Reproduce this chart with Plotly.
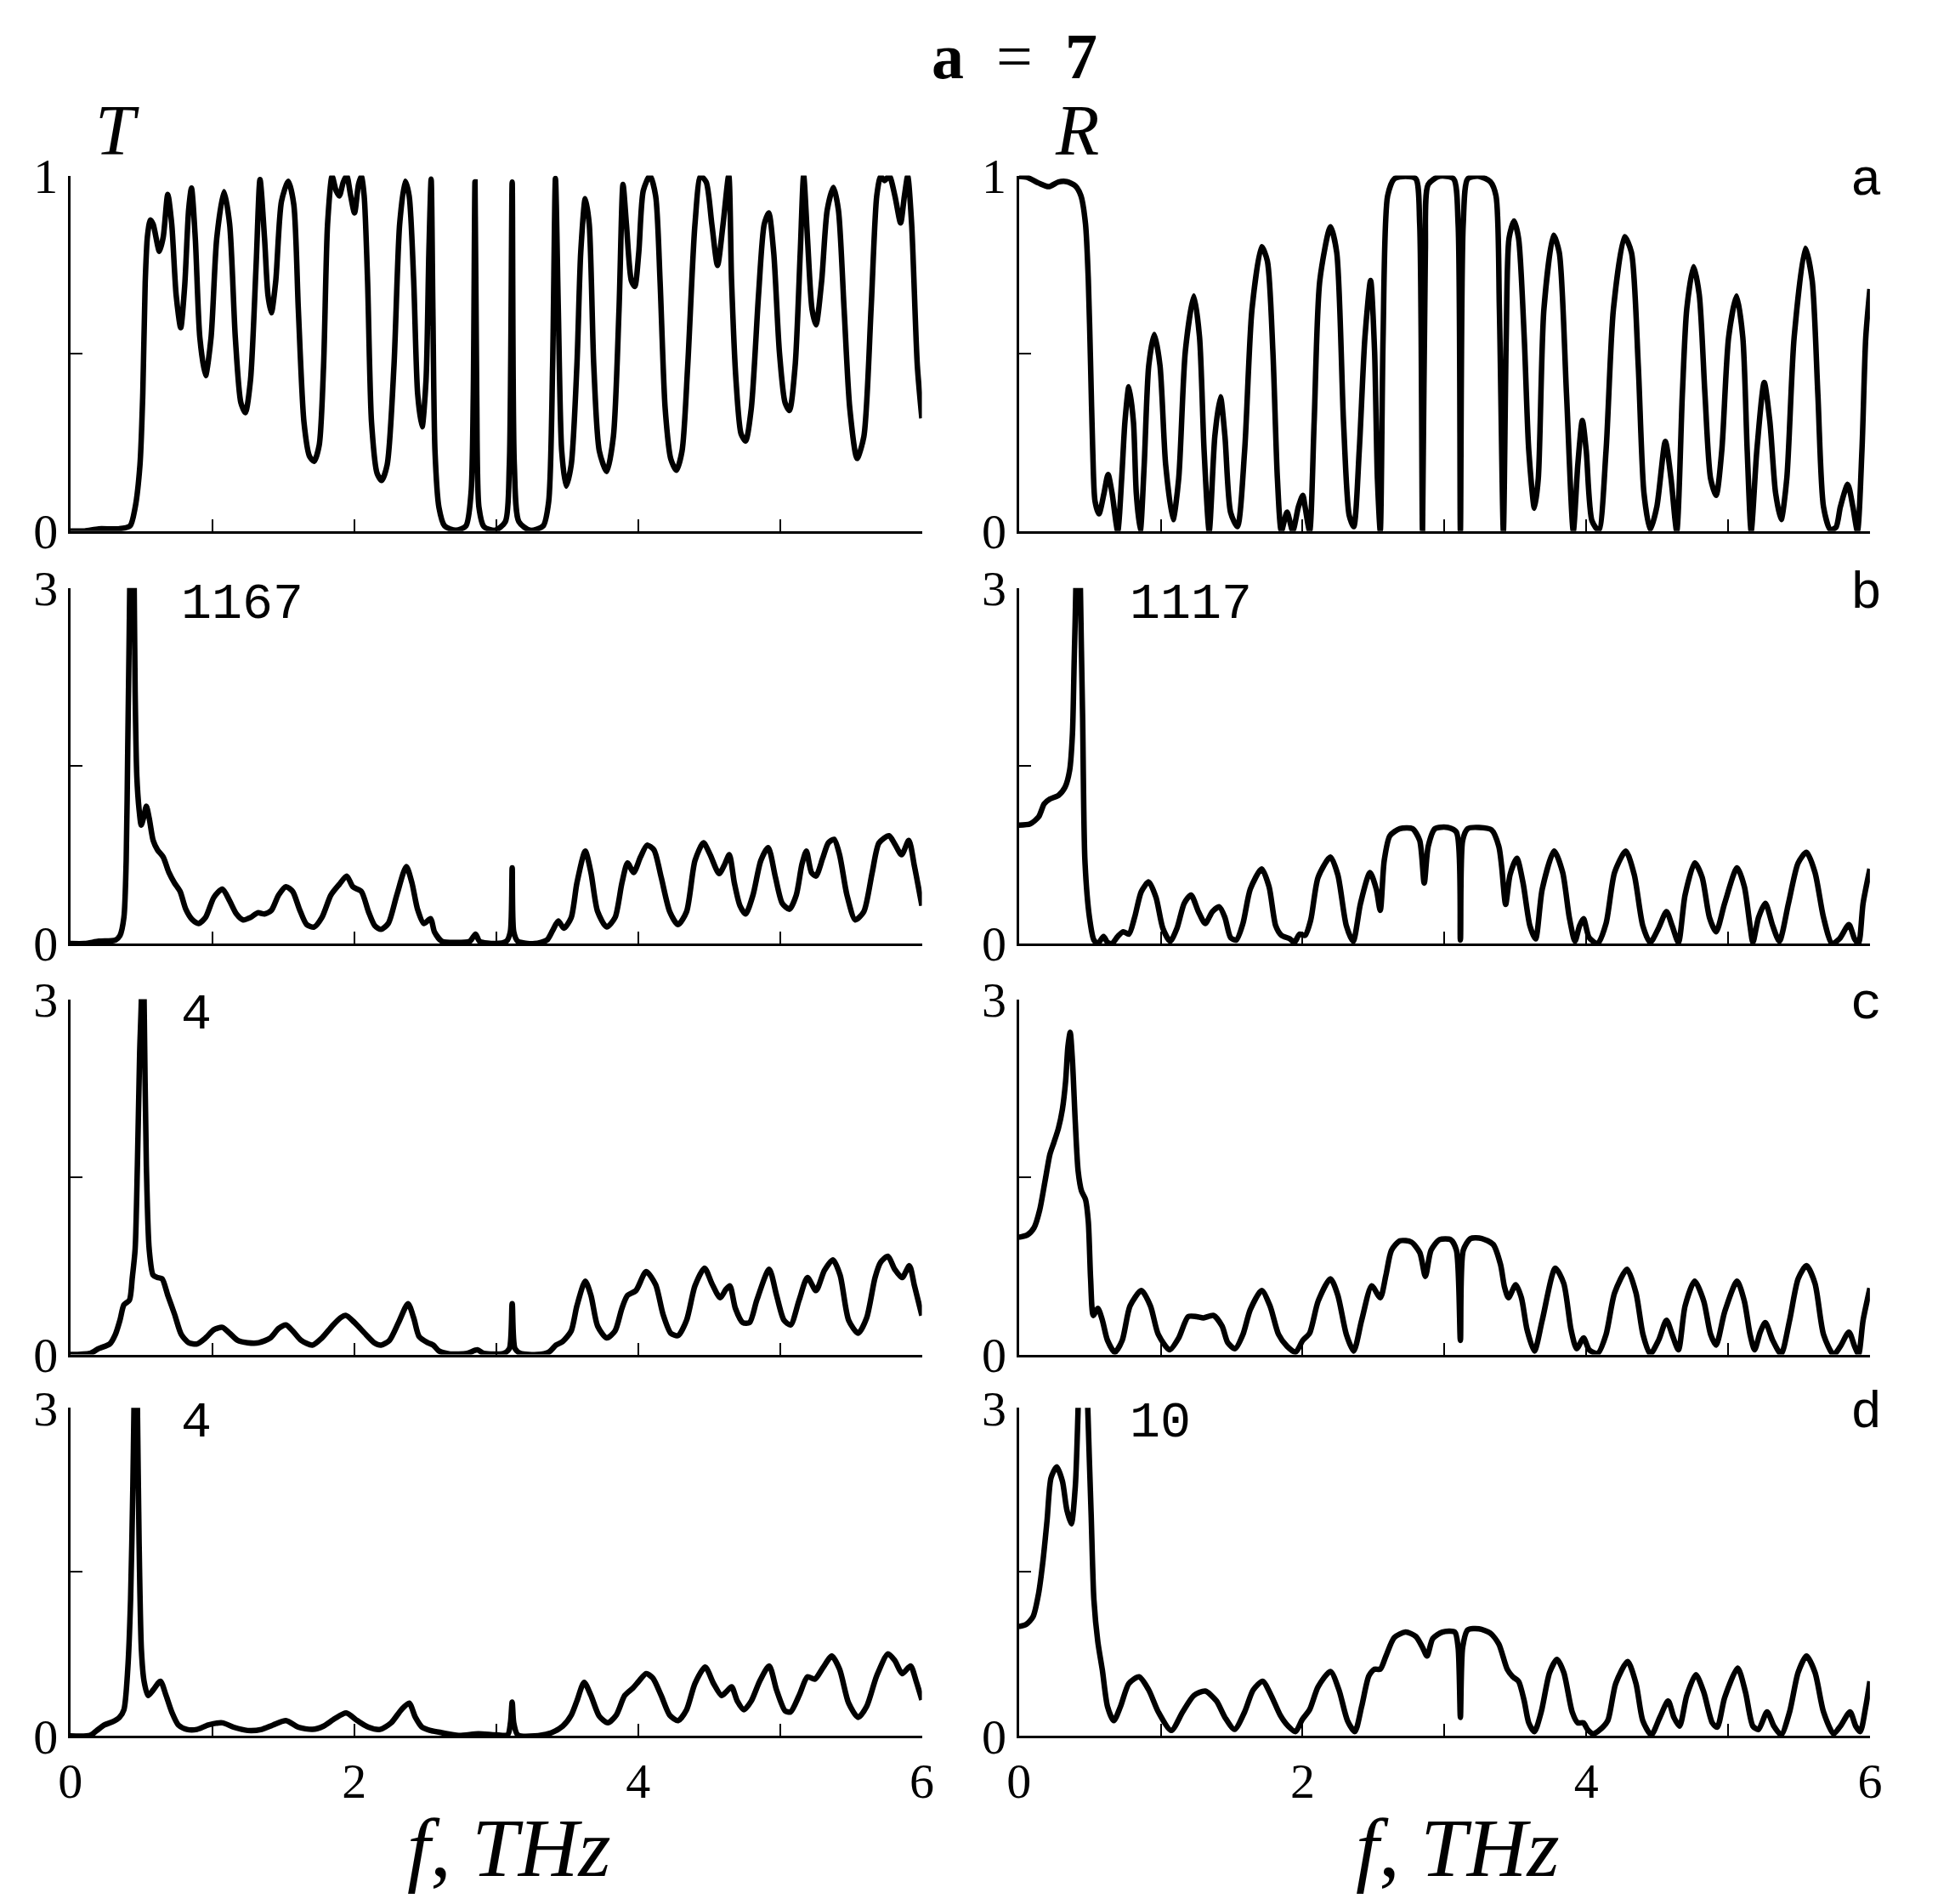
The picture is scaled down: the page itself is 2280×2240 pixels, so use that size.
import plotly.graph_objects as go
from plotly.subplots import make_subplots

# (f in THz, value) pairs, one list per panel.
# Peaks that leave the frame are given a value above the axis range.
T_A = [(0, 0), (0.1, 0), (0.2, 0.006), (0.34, 0.006), (0.42, 0.014), (0.456, 0.066), (0.49, 0.186),
       (0.51, 0.385), (0.527, 0.70), (0.543, 0.83), (0.563, 0.875), (0.583, 0.863), (0.627, 0.787),
       (0.654, 0.827), (0.686, 0.947), (0.714, 0.863), (0.745, 0.664), (0.777, 0.572), (0.805, 0.688),
       (0.833, 0.903), (0.853, 0.965), (0.88, 0.823), (0.912, 0.544), (0.952, 0.437), (0.991, 0.544),
       (1.031, 0.823), (1.082, 0.955), (1.122, 0.863), (1.162, 0.544), (1.201, 0.361), (1.233, 0.333),
       (1.269, 0.425), (1.308, 0.743), (1.336, 0.989), (1.368, 0.823), (1.392, 0.664), (1.416, 0.614),
       (1.447, 0.704), (1.487, 0.927), (1.535, 0.984), (1.574, 0.919), (1.606, 0.624), (1.646, 0.305),
       (1.685, 0.21), (1.717, 0.196), (1.753, 0.241), (1.784, 0.465), (1.812, 0.863), (1.844, 0.998),
       (1.872, 0.958), (1.895, 0.943), (1.923, 0.982), (1.947, 1.0), (1.975, 0.943), (2.002, 0.895),
       (2.03, 0.975), (2.05, 0.998), (2.07, 0.943), (2.094, 0.704), (2.122, 0.305), (2.161, 0.162),
       (2.193, 0.142), (2.232, 0.186), (2.28, 0.465), (2.32, 0.863), (2.359, 0.984), (2.387, 0.943),
       (2.419, 0.704), (2.447, 0.385), (2.478, 0.293), (2.506, 0.425), (2.526, 0.783), (2.542, 0.99),
       (2.554, 0.624), (2.569, 0.225), (2.597, 0.066), (2.637, 0.014), (2.716, 0.002), (2.787, 0.014),
       (2.823, 0.106), (2.839, 0.385), (2.851, 0.982), (2.863, 0.385), (2.879, 0.066), (2.914, 0.012),
       (2.994, 0.002), (3.065, 0.026), (3.093, 0.186), (3.113, 0.982), (3.128, 0.186), (3.16, 0.026),
       (3.239, 0.002), (3.331, 0.014), (3.37, 0.082), (3.398, 0.465), (3.418, 0.992), (3.438, 0.624),
       (3.462, 0.225), (3.493, 0.126), (3.529, 0.186), (3.569, 0.465), (3.596, 0.783), (3.628, 0.935),
       (3.656, 0.863), (3.688, 0.465), (3.727, 0.225), (3.779, 0.167), (3.826, 0.265), (3.866, 0.624),
       (3.894, 0.975), (3.918, 0.863), (3.953, 0.704), (3.977, 0.688), (4.005, 0.783), (4.037, 0.958),
       (4.084, 1.0), (4.124, 0.943), (4.155, 0.704), (4.191, 0.345), (4.231, 0.202), (4.27, 0.171),
       (4.31, 0.225), (4.35, 0.465), (4.401, 0.863), (4.441, 0.998), (4.48, 0.982), (4.52, 0.863),
       (4.56, 0.747), (4.599, 0.863), (4.639, 1.0), (4.659, 0.704), (4.69, 0.425), (4.726, 0.273),
       (4.758, 0.253), (4.798, 0.345), (4.849, 0.664), (4.889, 0.863), (4.921, 0.895), (4.956, 0.783),
       (4.996, 0.504), (5.036, 0.361), (5.067, 0.339), (5.107, 0.465), (5.143, 0.783), (5.167, 1.0),
       (5.194, 0.823), (5.226, 0.624), (5.254, 0.58), (5.294, 0.704), (5.333, 0.903), (5.377, 0.967),
       (5.412, 0.903), (5.452, 0.624), (5.492, 0.345), (5.543, 0.204), (5.591, 0.265), (5.642, 0.624),
       (5.682, 0.943), (5.71, 0.998), (5.738, 0.986), (5.77, 1.0), (5.81, 0.943), (5.85, 0.867),
       (5.877, 0.943), (5.9, 0.998), (5.928, 0.863), (5.968, 0.465), (6.0, 0.317)]

R_A = [(0, 0.998), (0.06, 0.995), (0.14, 0.979), (0.21, 0.969), (0.279, 0.982), (0.338, 0.983),
       (0.398, 0.971), (0.438, 0.943), (0.47, 0.864), (0.49, 0.705), (0.506, 0.466), (0.521, 0.227),
       (0.537, 0.084), (0.565, 0.048), (0.601, 0.107), (0.629, 0.159), (0.657, 0.107), (0.697, 0.0),
       (0.725, 0.147), (0.748, 0.307), (0.776, 0.406), (0.808, 0.307), (0.828, 0.107), (0.856, 0.0),
       (0.884, 0.187), (0.916, 0.466), (0.955, 0.553), (0.995, 0.466), (1.035, 0.187), (1.087, 0.032),
       (1.127, 0.147), (1.174, 0.506), (1.234, 0.661), (1.274, 0.545), (1.306, 0.227), (1.342, 0.0),
       (1.382, 0.267), (1.421, 0.378), (1.453, 0.267), (1.493, 0.052), (1.541, 0.012), (1.592, 0.227),
       (1.644, 0.625), (1.712, 0.8), (1.752, 0.76), (1.791, 0.506), (1.823, 0.147), (1.851, 0.0),
       (1.891, 0.053), (1.931, 0.0), (1.971, 0.068), (2.002, 0.1), (2.018, 0.068), (2.05, 0.0),
       (2.082, 0.307), (2.122, 0.705), (2.197, 0.856), (2.241, 0.784), (2.289, 0.307), (2.329, 0.044),
       (2.361, 0.012), (2.4, 0.227), (2.44, 0.545), (2.48, 0.705), (2.508, 0.506), (2.528, 0.147),
       (2.548, 0.0), (2.568, 0.545), (2.6, 0.943), (2.647, 0.991), (2.727, 0.998), (2.799, 0.991),
       (2.826, 0.864), (2.846, 0.0), (2.866, 0.784), (2.886, 0.975), (2.966, 0.998), (3.065, 0.991),
       (3.097, 0.864), (3.113, 0.0), (3.133, 0.864), (3.165, 0.991), (3.244, 0.998), (3.324, 0.983),
       (3.364, 0.943), (3.388, 0.625), (3.416, 0.0), (3.436, 0.545), (3.456, 0.824), (3.491, 0.872),
       (3.523, 0.824), (3.563, 0.545), (3.595, 0.227), (3.635, 0.064), (3.662, 0.147), (3.702, 0.625),
       (3.77, 0.832), (3.81, 0.784), (3.861, 0.386), (3.909, 0.0), (3.941, 0.187), (3.973, 0.311),
       (4.0, 0.227), (4.041, 0.028), (4.088, 0.002), (4.14, 0.227), (4.192, 0.625), (4.271, 0.828),
       (4.319, 0.784), (4.367, 0.466), (4.407, 0.107), (4.451, 0.004), (4.498, 0.068), (4.558, 0.252),
       (4.598, 0.147), (4.638, 0.0), (4.678, 0.386), (4.709, 0.625), (4.757, 0.744), (4.797, 0.665),
       (4.837, 0.386), (4.877, 0.147), (4.916, 0.1), (4.956, 0.227), (5.004, 0.545), (5.06, 0.661),
       (5.104, 0.545), (5.135, 0.227), (5.163, 0.0), (5.203, 0.227), (5.255, 0.418), (5.295, 0.307),
       (5.335, 0.107), (5.374, 0.032), (5.414, 0.147), (5.466, 0.545), (5.545, 0.796), (5.593, 0.705),
       (5.633, 0.386), (5.673, 0.068), (5.721, 0.004), (5.761, 0.01), (5.792, 0.068), (5.844, 0.131),
       (5.88, 0.068), (5.912, 0.0), (5.944, 0.227), (5.971, 0.545), (6.0, 0.681)]

T_B = [(0, 0), (0.1, 0), (0.2, 0.02), (0.317, 0.03), (0.349, 0.067), (0.377, 0.222), (0.393, 0.7),
       (0.404, 1.65), (0.42, 3.2), (0.432, 5.0), (0.448, 3.2), (0.456, 2.13), (0.468, 1.41),
       (0.484, 1.13), (0.499, 1.0), (0.515, 1.06), (0.535, 1.16), (0.555, 1.06), (0.583, 0.87),
       (0.614, 0.79), (0.654, 0.73), (0.694, 0.60), (0.734, 0.51), (0.773, 0.44), (0.813, 0.29),
       (0.86, 0.20), (0.904, 0.17), (0.952, 0.22), (1.011, 0.39), (1.071, 0.46), (1.122, 0.36),
       (1.17, 0.25), (1.217, 0.20), (1.269, 0.22), (1.32, 0.26), (1.368, 0.25), (1.416, 0.28),
       (1.467, 0.41), (1.519, 0.48), (1.566, 0.44), (1.614, 0.29), (1.665, 0.16), (1.717, 0.14),
       (1.772, 0.22), (1.836, 0.41), (1.895, 0.50), (1.947, 0.57), (1.99, 0.48), (2.05, 0.44),
       (2.1, 0.27), (2.145, 0.15), (2.189, 0.12), (2.24, 0.17), (2.3, 0.41), (2.367, 0.65),
       (2.407, 0.51), (2.446, 0.29), (2.49, 0.17), (2.538, 0.21), (2.565, 0.10), (2.617, 0.02),
       (2.716, 0.01), (2.815, 0.02), (2.855, 0.08), (2.883, 0.02), (2.994, 0.0), (3.073, 0.02),
       (3.1, 0.10), (3.113, 0.64), (3.124, 0.10), (3.152, 0.02), (3.271, 0.0), (3.358, 0.03),
       (3.398, 0.11), (3.438, 0.19), (3.477, 0.13), (3.529, 0.22), (3.569, 0.51), (3.628, 0.78),
       (3.668, 0.60), (3.715, 0.27), (3.779, 0.14), (3.838, 0.22), (3.886, 0.51), (3.926, 0.68),
       (3.969, 0.60), (4.017, 0.73), (4.064, 0.83), (4.112, 0.79), (4.163, 0.56), (4.223, 0.27),
       (4.282, 0.16), (4.342, 0.27), (4.401, 0.70), (4.461, 0.85), (4.508, 0.75), (4.571, 0.59),
       (4.611, 0.67), (4.643, 0.75), (4.679, 0.51), (4.718, 0.32), (4.758, 0.25), (4.81, 0.41),
       (4.865, 0.70), (4.917, 0.81), (4.968, 0.56), (5.016, 0.34), (5.067, 0.29), (5.115, 0.41),
       (5.155, 0.67), (5.186, 0.78), (5.222, 0.60), (5.254, 0.57), (5.301, 0.72), (5.341, 0.85),
       (5.381, 0.88), (5.42, 0.75), (5.472, 0.41), (5.531, 0.20), (5.591, 0.27), (5.65, 0.60),
       (5.698, 0.85), (5.769, 0.91), (5.809, 0.84), (5.857, 0.75), (5.908, 0.87), (5.948, 0.65),
       (6.0, 0.32)]

R_B = [(0, 1.0), (0.08, 1.01), (0.14, 1.07), (0.179, 1.18), (0.219, 1.22), (0.279, 1.25),
       (0.326, 1.32), (0.358, 1.46), (0.378, 1.77), (0.39, 2.37), (0.402, 3.0), (0.418, 5.0),
       (0.434, 3.0), (0.45, 1.89), (0.466, 0.70), (0.498, 0.22), (0.529, 0.03), (0.557, 0.0),
       (0.597, 0.06), (0.625, 0.01), (0.657, 0.0), (0.697, 0.06), (0.736, 0.10), (0.776, 0.08),
       (0.816, 0.22), (0.864, 0.44), (0.916, 0.52), (0.967, 0.39), (1.015, 0.13), (1.067, 0.02),
       (1.115, 0.13), (1.166, 0.34), (1.214, 0.41), (1.266, 0.27), (1.314, 0.17), (1.365, 0.27),
       (1.413, 0.31), (1.453, 0.22), (1.493, 0.05), (1.533, 0.03), (1.58, 0.17), (1.632, 0.46),
       (1.712, 0.63), (1.764, 0.48), (1.811, 0.15), (1.851, 0.07), (1.911, 0.04), (1.943, 0.01),
       (1.979, 0.08), (2.018, 0.07), (2.058, 0.20), (2.11, 0.56), (2.197, 0.73), (2.249, 0.58),
       (2.309, 0.15), (2.357, 0.02), (2.409, 0.34), (2.476, 0.60), (2.52, 0.46), (2.548, 0.28),
       (2.576, 0.70), (2.616, 0.91), (2.687, 0.97), (2.775, 0.97), (2.826, 0.87), (2.858, 0.51),
       (2.886, 0.82), (2.934, 0.97), (3.025, 0.98), (3.085, 0.94), (3.113, 0.03), (3.129, 0.87),
       (3.165, 0.97), (3.244, 0.98), (3.332, 0.96), (3.384, 0.82), (3.404, 0.65), (3.432, 0.33),
       (3.463, 0.58), (3.511, 0.72), (3.555, 0.51), (3.603, 0.15), (3.643, 0.04), (3.69, 0.46),
       (3.774, 0.78), (3.834, 0.60), (3.881, 0.22), (3.921, 0.02), (3.953, 0.15), (3.981, 0.21),
       (4.021, 0.05), (4.081, 0.0), (4.14, 0.17), (4.2, 0.60), (4.279, 0.78), (4.339, 0.58),
       (4.399, 0.15), (4.451, 0.01), (4.51, 0.13), (4.566, 0.27), (4.606, 0.15), (4.65, 0.01),
       (4.697, 0.41), (4.765, 0.68), (4.817, 0.56), (4.869, 0.22), (4.916, 0.10), (4.976, 0.34),
       (5.064, 0.64), (5.115, 0.48), (5.155, 0.15), (5.175, 0.01), (5.215, 0.22), (5.263, 0.34),
       (5.315, 0.15), (5.362, 0.02), (5.426, 0.34), (5.494, 0.68), (5.553, 0.77), (5.613, 0.60),
       (5.673, 0.22), (5.733, 0.0), (5.785, 0.04), (5.852, 0.16), (5.892, 0.04), (5.92, 0.0),
       (5.952, 0.34), (6.0, 0.63)]

T_C = [(0, 0), (0.139, 0.01), (0.198, 0.05), (0.278, 0.09), (0.317, 0.17), (0.349, 0.29),
       (0.377, 0.42), (0.416, 0.46), (0.436, 0.65), (0.456, 0.89), (0.472, 1.6), (0.488, 2.55),
       (0.5, 3.0), (0.508, 4.0), (0.519, 3.0), (0.535, 1.6), (0.555, 0.89), (0.583, 0.67),
       (0.614, 0.65), (0.646, 0.64), (0.686, 0.5), (0.734, 0.34), (0.781, 0.17), (0.833, 0.1),
       (0.892, 0.09), (0.952, 0.14), (1.011, 0.21), (1.071, 0.23), (1.122, 0.18), (1.178, 0.12),
       (1.249, 0.1), (1.328, 0.1), (1.408, 0.14), (1.467, 0.22), (1.519, 0.25), (1.566, 0.2),
       (1.626, 0.12), (1.705, 0.08), (1.772, 0.14), (1.844, 0.24), (1.903, 0.31), (1.943, 0.33),
       (2.002, 0.27), (2.082, 0.17), (2.141, 0.1), (2.189, 0.08), (2.248, 0.12), (2.312, 0.27),
       (2.379, 0.43), (2.419, 0.31), (2.458, 0.15), (2.518, 0.1), (2.557, 0.08), (2.597, 0.03),
       (2.676, 0.005), (2.795, 0.01), (2.867, 0.04), (2.914, 0.01), (3.053, 0.01), (3.093, 0.05),
       (3.113, 0.43), (3.133, 0.05), (3.172, 0.01), (3.291, 0.0), (3.37, 0.02), (3.422, 0.08),
       (3.469, 0.11), (3.529, 0.2), (3.569, 0.41), (3.628, 0.62), (3.668, 0.5), (3.715, 0.24),
       (3.779, 0.14), (3.838, 0.2), (3.886, 0.39), (3.926, 0.5), (3.985, 0.54), (4.057, 0.7),
       (4.124, 0.59), (4.176, 0.34), (4.231, 0.18), (4.282, 0.16), (4.342, 0.29), (4.401, 0.58),
       (4.469, 0.73), (4.52, 0.6), (4.579, 0.48), (4.619, 0.55), (4.647, 0.58), (4.686, 0.39),
       (4.738, 0.27), (4.786, 0.27), (4.837, 0.46), (4.924, 0.72), (4.976, 0.5), (5.028, 0.29),
       (5.075, 0.25), (5.135, 0.46), (5.194, 0.65), (5.254, 0.54), (5.313, 0.71), (5.373, 0.8),
       (5.424, 0.67), (5.484, 0.29), (5.551, 0.18), (5.611, 0.31), (5.67, 0.65), (5.71, 0.78),
       (5.761, 0.83), (5.809, 0.72), (5.861, 0.65), (5.912, 0.75), (5.948, 0.58), (6.0, 0.33)]

R_C = [(0, 0.99), (0.06, 1.01), (0.107, 1.07), (0.147, 1.22), (0.187, 1.48), (0.219, 1.69),
       (0.247, 1.79), (0.279, 1.91), (0.307, 2.07), (0.33, 2.31), (0.346, 2.6), (0.362, 2.72),
       (0.378, 2.48), (0.398, 1.96), (0.418, 1.55), (0.442, 1.38), (0.47, 1.31), (0.49, 1.12),
       (0.506, 0.64), (0.525, 0.33), (0.557, 0.39), (0.589, 0.29), (0.625, 0.12), (0.677, 0.02),
       (0.729, 0.12), (0.784, 0.41), (0.864, 0.54), (0.928, 0.41), (0.983, 0.17), (1.063, 0.04),
       (1.127, 0.14), (1.194, 0.32), (1.254, 0.32), (1.302, 0.31), (1.373, 0.33), (1.433, 0.24),
       (1.473, 0.1), (1.525, 0.05), (1.58, 0.17), (1.632, 0.38), (1.712, 0.54), (1.771, 0.41),
       (1.831, 0.17), (1.891, 0.07), (1.951, 0.02), (2.002, 0.12), (2.05, 0.18), (2.11, 0.45),
       (2.197, 0.64), (2.249, 0.5), (2.309, 0.17), (2.361, 0.03), (2.417, 0.29), (2.488, 0.58),
       (2.548, 0.48), (2.588, 0.67), (2.627, 0.88), (2.687, 0.96), (2.767, 0.95), (2.827, 0.86),
       (2.866, 0.66), (2.906, 0.88), (2.966, 0.97), (3.045, 0.97), (3.085, 0.88), (3.113, 0.12),
       (3.133, 0.88), (3.185, 0.98), (3.264, 0.98), (3.344, 0.93), (3.396, 0.76), (3.424, 0.57),
       (3.452, 0.48), (3.503, 0.59), (3.543, 0.48), (3.583, 0.21), (3.635, 0.03), (3.69, 0.29),
       (3.782, 0.73), (3.842, 0.6), (3.893, 0.21), (3.933, 0.05), (3.981, 0.14), (4.021, 0.04),
       (4.081, 0.01), (4.14, 0.17), (4.2, 0.52), (4.288, 0.72), (4.351, 0.52), (4.4, 0.17),
       (4.451, 0.005), (4.51, 0.12), (4.566, 0.29), (4.606, 0.17), (4.65, 0.04), (4.697, 0.41),
       (4.765, 0.62), (4.829, 0.45), (4.877, 0.17), (4.916, 0.08), (4.976, 0.36), (5.064, 0.62),
       (5.115, 0.45), (5.155, 0.17), (5.187, 0.04), (5.227, 0.19), (5.263, 0.27), (5.315, 0.12),
       (5.374, 0.005), (5.434, 0.29), (5.494, 0.64), (5.553, 0.75), (5.613, 0.6), (5.673, 0.17),
       (5.744, 0.0), (5.792, 0.07), (5.852, 0.19), (5.892, 0.07), (5.92, 0.005), (5.952, 0.29),
       (6.0, 0.56)]

T_D = [(0, 0), (0.139, 0.005), (0.186, 0.05), (0.238, 0.10), (0.297, 0.13), (0.345, 0.17),
       (0.377, 0.24), (0.404, 0.61), (0.424, 1.25), (0.44, 2.28), (0.448, 3.0), (0.46, 4.0),
       (0.472, 3.0), (0.484, 1.76), (0.5, 0.79), (0.519, 0.5), (0.547, 0.37), (0.583, 0.42),
       (0.634, 0.5), (0.674, 0.37), (0.714, 0.22), (0.761, 0.1), (0.821, 0.06), (0.892, 0.06),
       (0.971, 0.1), (1.071, 0.12), (1.15, 0.08), (1.249, 0.05), (1.348, 0.06), (1.427, 0.1),
       (1.519, 0.14), (1.606, 0.08), (1.705, 0.06), (1.784, 0.09), (1.864, 0.16), (1.943, 0.21),
       (2.022, 0.14), (2.101, 0.08), (2.181, 0.06), (2.26, 0.12), (2.332, 0.24), (2.387, 0.3),
       (2.431, 0.17), (2.478, 0.08), (2.538, 0.05), (2.617, 0.03), (2.736, 0.005), (2.875, 0.02),
       (2.994, 0.01), (3.081, 0.01), (3.101, 0.12), (3.113, 0.31), (3.124, 0.12), (3.152, 0.01),
       (3.271, 0.0), (3.39, 0.03), (3.469, 0.09), (3.529, 0.19), (3.569, 0.32), (3.62, 0.49),
       (3.668, 0.37), (3.727, 0.18), (3.787, 0.12), (3.846, 0.19), (3.906, 0.37), (3.965, 0.44),
       (4.005, 0.5), (4.057, 0.57), (4.104, 0.53), (4.163, 0.37), (4.223, 0.19), (4.282, 0.14),
       (4.342, 0.24), (4.401, 0.48), (4.473, 0.63), (4.532, 0.48), (4.588, 0.37), (4.619, 0.4),
       (4.659, 0.45), (4.699, 0.32), (4.746, 0.24), (4.798, 0.32), (4.857, 0.5), (4.924, 0.64),
       (4.976, 0.42), (5.036, 0.23), (5.075, 0.22), (5.135, 0.37), (5.194, 0.54), (5.246, 0.52),
       (5.301, 0.62), (5.365, 0.73), (5.42, 0.61), (5.484, 0.3), (5.551, 0.17), (5.611, 0.27),
       (5.682, 0.55), (5.761, 0.75), (5.809, 0.69), (5.861, 0.57), (5.92, 0.64), (5.96, 0.5),
       (6.0, 0.33)]

R_D = [(0, 1.0), (0.052, 1.02), (0.1, 1.09), (0.139, 1.3), (0.171, 1.61), (0.199, 1.97),
       (0.227, 2.36), (0.267, 2.46), (0.307, 2.33), (0.338, 2.07), (0.37, 1.94), (0.398, 2.28),
       (0.418, 3.0), (0.45, 5.0), (0.486, 3.0), (0.51, 2.02), (0.529, 1.25), (0.557, 0.86),
       (0.589, 0.6), (0.625, 0.27), (0.669, 0.14), (0.717, 0.27), (0.776, 0.48), (0.848, 0.54),
       (0.916, 0.42), (0.983, 0.22), (1.075, 0.05), (1.155, 0.22), (1.234, 0.37), (1.314, 0.41),
       (1.393, 0.32), (1.453, 0.17), (1.521, 0.06), (1.592, 0.22), (1.652, 0.42), (1.719, 0.5),
       (1.779, 0.37), (1.843, 0.19), (1.899, 0.09), (1.951, 0.04), (1.998, 0.15), (2.05, 0.24),
       (2.11, 0.45), (2.197, 0.59), (2.257, 0.42), (2.317, 0.14), (2.369, 0.04), (2.417, 0.27),
       (2.468, 0.55), (2.508, 0.61), (2.548, 0.61), (2.588, 0.73), (2.647, 0.9), (2.727, 0.95),
       (2.799, 0.91), (2.846, 0.81), (2.878, 0.73), (2.918, 0.89), (2.986, 0.95), (3.073, 0.95),
       (3.097, 0.81), (3.113, 0.17), (3.129, 0.81), (3.165, 0.97), (3.244, 0.98), (3.324, 0.94),
       (3.384, 0.84), (3.443, 0.61), (3.483, 0.54), (3.523, 0.5), (3.563, 0.32), (3.595, 0.12),
       (3.635, 0.04), (3.683, 0.22), (3.742, 0.58), (3.794, 0.7), (3.842, 0.58), (3.901, 0.22),
       (3.941, 0.12), (3.981, 0.12), (4.009, 0.06), (4.049, 0.02), (4.1, 0.06), (4.152, 0.14),
       (4.208, 0.48), (4.292, 0.68), (4.351, 0.48), (4.399, 0.14), (4.459, 0.01), (4.519, 0.17),
       (4.578, 0.32), (4.618, 0.17), (4.658, 0.09), (4.709, 0.37), (4.773, 0.56), (4.829, 0.4),
       (4.889, 0.12), (4.924, 0.08), (4.976, 0.35), (5.068, 0.62), (5.123, 0.4), (5.175, 0.09),
       (5.215, 0.06), (5.275, 0.22), (5.323, 0.09), (5.374, 0.01), (5.434, 0.22), (5.494, 0.58),
       (5.553, 0.73), (5.613, 0.58), (5.673, 0.22), (5.744, 0.02), (5.792, 0.09), (5.86, 0.22),
       (5.9, 0.09), (5.932, 0.04), (5.971, 0.27), (6.0, 0.5)]

PANELS = [(T_A, R_A), (T_B, R_B), (T_C, R_C), (T_D, R_D)]
PANEL_LETTERS = ["a", "b", "c", "d"]
Y_MAX = [1, 3, 3, 3]
LEFT_NOTES = ["", "1167", "4", "4"]
RIGHT_NOTES = ["", "1117", "", "10"]
X_TICKS = [0, 1, 2, 3, 4, 5, 6]
X_TICK_TEXT = ["0", "", "2", "", "4", "", "6"]

W, H = 2280, 2240
COL_DOMAINS = [[0.0266, 0.4718], [0.5225, 0.9675]]
ROW_DOMAINS = [[0.7312, 0.9234], [0.5080, 0.7003], [0.2857, 0.4779], [0.0794, 0.2569]]

SERIF = "Liberation Serif"
MONO = "Liberation Mono"
AXIS_STYLE = dict(ticks="inside", ticklen=14, tickwidth=2, tickcolor="black",
                  showline=True, linecolor="black", linewidth=3,
                  showgrid=False, zeroline=False,
                  tickfont={"family": SERIF, "size": 58, "color": "black"})

fig = make_subplots(rows=4, cols=2)

for r, (left, right) in enumerate(PANELS):
    for c, pts in enumerate((left, right)):
        f = [p[0] for p in pts]
        v = [p[1] for p in pts]
        fig.add_trace(
            go.Scatter(x=f, y=v, mode="lines",
                       line={"color": "black", "width": 6.5, "shape": "spline", "smoothing": 0.7},
                       showlegend=False, hoverinfo="skip"),
            row=r + 1, col=c + 1,
        )
        ymax = Y_MAX[r]
        fig.update_xaxes(row=r + 1, col=c + 1, domain=COL_DOMAINS[c], range=[0, 6],
                         tickvals=X_TICKS,
                         ticktext=X_TICK_TEXT if r == 3 else [""] * len(X_TICKS),
                         **AXIS_STYLE)
        fig.update_yaxes(row=r + 1, col=c + 1, domain=ROW_DOMAINS[r], range=[0, ymax],
                         tickvals=[0, ymax / 2, ymax], ticktext=["0", "", str(ymax)],
                         **AXIS_STYLE)


def domain_refs(r, c):
    n = r * 2 + c + 1
    s = "" if n == 1 else str(n)
    return f"x{s} domain", f"y{s} domain"


annotations = []
for r in range(4):
    # panel letter at the top right corner of the right column
    xr, yr = domain_refs(r, 1)
    annotations.append(dict(x=1.016, y=0.985, xref=xr, yref=yr, text=PANEL_LETTERS[r],
                            showarrow=False, xanchor="right", yanchor="middle",
                            font={"family": MONO, "size": 62, "color": "black"}))
    for c, note in ((0, LEFT_NOTES[r]), (1, RIGHT_NOTES[r])):
        if not note:
            continue
        xr, yr = domain_refs(r, c)
        annotations.append(dict(x=0.128, y=0.955, xref=xr, yref=yr, text=note,
                                showarrow=False, xanchor="left", yanchor="middle",
                                font={"family": MONO, "size": 60, "color": "black"}))

# title, column headers and x-axis labels
annotations += [
    dict(x=0.52, y=0.988, xref="paper", yref="paper",
         text="<b>a</b>&nbsp;&nbsp;=&nbsp;&nbsp;<b>7</b>", showarrow=False,
         xanchor="center", yanchor="middle",
         font={"family": SERIF, "size": 76, "color": "black"}),
    dict(x=0.0513, y=0.948, xref="paper", yref="paper", text="<i>T</i>",
         showarrow=False, xanchor="center", yanchor="middle",
         font={"family": SERIF, "size": 84, "color": "black"}),
    dict(x=0.553, y=0.948, xref="paper", yref="paper", text="<i>R</i>",
         showarrow=False, xanchor="center", yanchor="middle",
         font={"family": SERIF, "size": 84, "color": "black"}),
]
for c in range(2):
    annotations.append(dict(x=sum(COL_DOMAINS[c]) / 2 + 0.007, y=0.019,
                            xref="paper", yref="paper",
                            text="<i>f</i>,&nbsp;<i>THz</i>", showarrow=False,
                            xanchor="center", yanchor="middle",
                            font={"family": SERIF, "size": 98, "color": "black"}))

fig.update_layout(
    width=W, height=H,
    margin={"l": 0, "r": 0, "t": 0, "b": 0},
    paper_bgcolor="white", plot_bgcolor="white",
    showlegend=False,
    annotations=annotations,
)

fig.write_html("out.html")
